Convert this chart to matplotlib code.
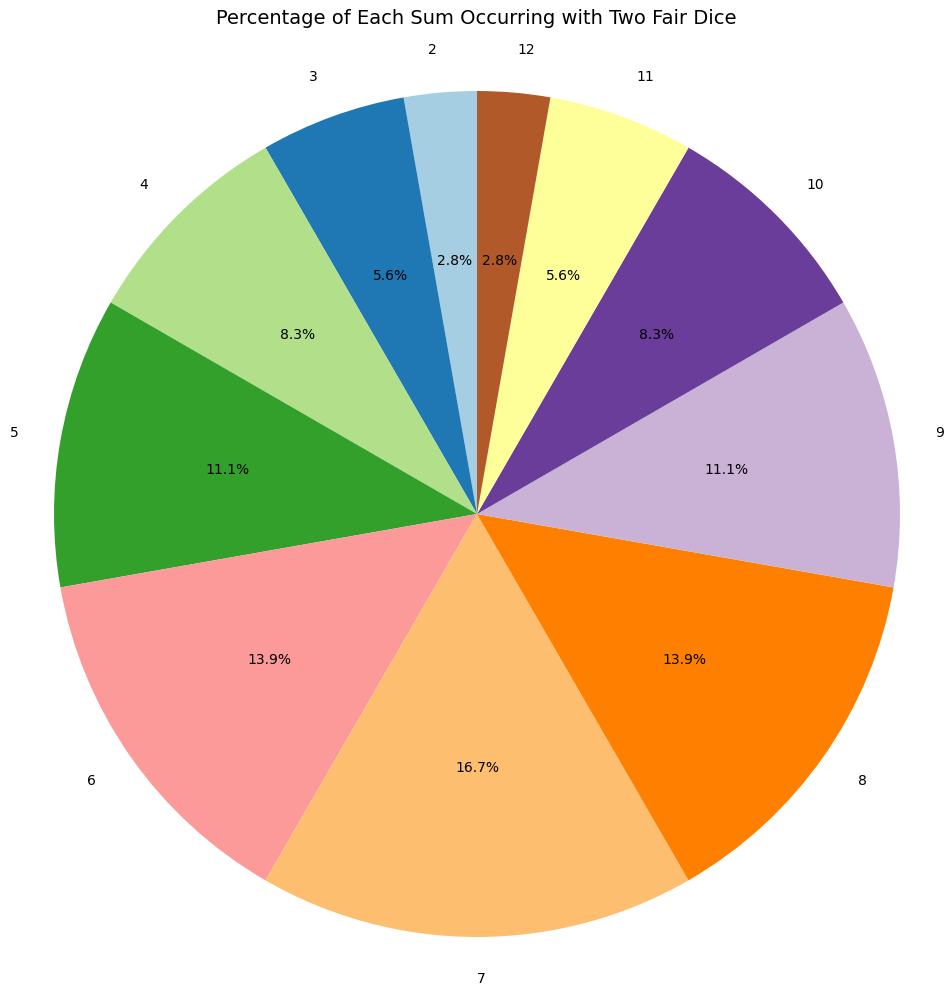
import matplotlib.pyplot as plt
import numpy as np

# Sums of two dice and number of ways each can occur (out of 36)
sums = ['2', '3', '4', '5', '6', '7', '8', '9', '10', '11', '12']
ways = [1, 2, 3, 4, 5, 6, 5, 4, 3, 2, 1]

colors = plt.cm.Paired(np.linspace(0, 1, len(sums)))

fig = plt.figure(figsize=(9.53, 9.96), dpi=100)

# pie centre at (477, 514) px from top, radius ~423 px
W, H = 953, 996
R = 423
cx, cy = 477, H - 514
half = 1.25 * R
ax = fig.add_axes([(cx - half) / W, (cy - half) / H, 2 * half / W, 2 * half / H])

ax.pie(ways, labels=sums, colors=colors, autopct='%1.1f%%', startangle=90)
ax.set_xlim(-1.25, 1.25)
ax.set_ylim(-1.25, 1.25)

fig.text(476 / W, 1 - 18 / H, 'Percentage of Each Sum Occurring with Two Fair Dice',
         ha='center', va='center', fontsize=14)

plt.savefig('out.png', dpi=100)
